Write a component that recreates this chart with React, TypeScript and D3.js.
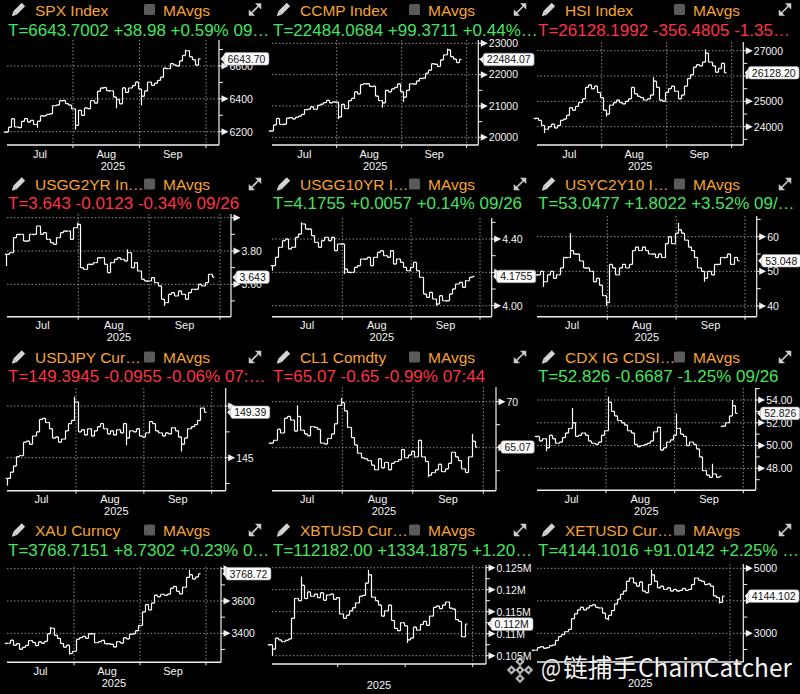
import React from "react";
import * as d3 from "d3";

// ---------- categories ----------
const MONTHS = ["Jul", "Aug", "Sep"];
const MONTH_FIRST_INDEX = [0, 22, 43, 64]; // first trading session of Jul, Aug, Sep, Oct
const YEAR_LABEL = "2025";

// ---------- series (daily closes, Jul 1 .. Sep 26 2025) ----------
const SPX_CLOSE = [6198,6227,6279,6229,6225,6263,6280,6259,6269,6244,6264,6297,6297,6305,6309,6359,6363,6389,6390,6371,6362,6339,
 6238,6330,6299,6345,6340,6389,6374,6446,6466,6469,6450,6449,6411,6396,6370,6467,6439,6466,6481,6502,6460,
 6416,6448,6502,6482,6495,6512,6532,6587,6584,6615,6606,6600,6631,6664,6693,6656,6638,6605,6643.7];
const SPX_WICKS: [number, number][] = [[22, 6212], [35, 6343], [43, 6360], [10, 6224], [57, 6699]];

const CCMP_CLOSE = [20202,20394,20601,20412,20418,20611,20630,20586,20640,20677,20730,20885,20896,20974,20893,21020,21057,21108,21179,21098,21130,21122,
 20650,21053,20916,21169,21242,21450,21385,21682,21713,21711,21623,21630,21315,21172,21100,21497,21449,21544,21590,21705,21456,
 21280,21498,21708,21700,21799,21879,21886,22043,22141,22348,22333,22261,22471,22631,22789,22573,22497,22385,22484.07];
const CCMP_WICKS: [number, number][] = [[22, 20580], [36, 20950], [43, 21130], [57, 22830]];

const HSI_CLOSE = [24330,24250,24050,23900,24000,24100,23950,24050,24250,24300,24450,24750,24650,24800,24950,25100,25550,25650,25500,25600,25350,25150,
 24650,24500,24850,24950,25050,24950,24900,25000,25100,25550,25300,25200,25150,25050,25100,25250,25800,25550,25050,
 25000,25350,25500,25600,25400,25100,25250,25600,25900,26050,26350,26450,26400,26550,26900,26550,26400,26150,26300,26500,26128.2];
const HSI_WICKS: [number, number][] = [[55, 27050], [38, 25950], [3, 23750], [23, 24400]];

const USGG2_CLOSE = [3.78,3.79,3.88,3.90,3.90,3.86,3.86,3.90,3.90,3.95,3.90,3.91,3.87,3.85,3.84,3.88,3.91,3.92,3.92,3.87,3.94,3.96,
 3.70,3.69,3.72,3.72,3.73,3.76,3.76,3.72,3.67,3.73,3.75,3.76,3.75,3.74,3.79,3.70,3.73,3.68,3.63,3.62,3.62,
 3.64,3.61,3.59,3.51,3.49,3.54,3.55,3.53,3.56,3.54,3.51,3.55,3.57,3.57,3.60,3.59,3.61,3.66,3.643];
const USGG2_WICKS: [number, number][] = [[0, 3.71], [21, 3.97], [36, 3.81], [47, 3.47]];

const USGG10_CLOSE = [4.24,4.29,4.35,4.39,4.40,4.34,4.35,4.41,4.43,4.49,4.46,4.46,4.42,4.38,4.35,4.39,4.41,4.39,4.41,4.33,4.37,4.37,
 4.22,4.20,4.20,4.23,4.24,4.28,4.28,4.29,4.24,4.29,4.32,4.33,4.30,4.29,4.33,4.25,4.28,4.26,4.23,4.21,4.23,
 4.26,4.21,4.17,4.07,4.05,4.08,4.04,4.01,4.06,4.03,4.03,4.07,4.10,4.13,4.14,4.11,4.15,4.17,4.1755];
const USGG10_WICKS: [number, number][] = [[0, 4.21], [9, 4.50], [22, 4.19], [50, 4.00]];

const USYC_CLOSE = [49,50,47,49,50,48,49,51,54,54,56,55,55,53,51,51,50,47,48,46,43,41,
 52,51,49,51,52,51,52,56,57,56,57,56,55,55,54,55,54,58,60,58,61,
 62,61,59,57,56,54,51,50,48,50,49,52,52,54,54,55,52,54,53.048];
const USYC_WICKS: [number, number][] = [[10, 61], [21, 40], [43, 64], [51, 47], [2, 45.5]];

const USDJPY_CLOSE = [143.0,143.6,144.2,145.1,145.2,146.5,146.6,146.3,147.1,147.5,148.7,148.8,148.4,147.8,146.9,147.0,146.5,146.8,147.6,148.3,148.6,150.4,
 147.5,147.7,147.2,147.8,147.1,147.6,148.0,148.3,147.8,147.3,147.6,147.2,147.7,147.4,148.3,146.9,147.6,147.5,147.8,147.1,147.0,
 147.4,148.5,148.3,147.6,147.4,147.1,147.4,147.3,147.9,147.6,147.0,146.3,146.9,147.8,148.0,148.2,148.6,149.8,149.39];
const USDJPY_WICKS: [number, number][] = [[0, 142.3], [21, 150.9], [54, 145.6], [37, 146.2]];

const CL1_CLOSE = [65.5,65.8,67.0,66.6,68.2,68.4,68.0,66.8,68.4,66.9,66.5,66.3,67.3,67.2,67.0,65.5,65.4,66.0,66.5,67.6,69.6,69.9,
 69.0,67.2,66.1,65.3,64.4,63.9,63.8,63.6,63.1,62.6,63.8,62.8,63.4,62.6,63.3,63.5,63.7,64.8,63.9,64.2,64.6,
 64.0,65.8,64.0,63.5,62.0,62.3,62.6,63.2,62.4,62.7,63.3,64.5,64.0,63.6,62.7,62.3,64.0,65.7,65.07];
const CL1_WICKS: [number, number][] = [[8, 69.6], [21, 70.4], [60, 66.5], [47, 61.8]];

const CDX_CLOSE = [50.8,50.4,50.6,49.8,50.9,50.6,50.2,50.3,50.7,51.1,51.5,52.0,50.8,50.9,51.1,50.9,50.4,50.2,50.1,50.3,50.9,51.3,
 53.8,53.0,52.6,52.2,52.0,51.8,51.3,51.1,50.1,49.9,50.0,50.1,50.2,50.4,51.2,51.6,49.6,49.8,50.3,50.5,50.9,
 51.5,51.0,50.8,50.0,50.3,50.1,49.7,49.0,47.8,47.4,47.2,47.5,47.2,47.3,51.7,52.0,52.6,53.5,52.826];
const CDX_WICKS: [number, number][] = [[11, 53.3], [22, 54.3], [43, 52.8], [54, 48.4], [60, 54.0], [3, 49.5]];
const CDX_ROLL_INDEX = 57;

const XAU_CLOSE = [3338,3357,3326,3336,3301,3313,3325,3355,3343,3324,3347,3338,3350,3397,3431,3387,3368,3337,3314,3326,3275,3289,
 3363,3373,3381,3369,3397,3398,3342,3348,3356,3336,3336,3332,3315,3348,3339,3372,3365,3394,3397,3416,3448,
 3533,3578,3545,3587,3636,3626,3641,3635,3643,3679,3690,3660,3644,3685,3746,3763,3736,3749,3768.72];
const XAU_WICKS: [number, number][] = [[14, 3440], [20, 3268], [58, 3791]];

const XBT_CLOSE = [107500,106500,109000,108600,108200,108500,108800,113500,118000,117500,121000,118000,119500,118500,119000,118200,119300,117600,118800,119000,117800,118200,
 114500,113500,114200,115200,115900,117000,118500,118700,121500,123400,118300,117500,116500,114000,115200,116500,113000,111200,110700,
 112500,111800,108600,109000,111500,110800,112100,112800,111900,114000,116000,116300,115700,116500,117200,115800,115600,113200,112800,109300,112182];
const XBT_WICKS: [number, number][] = [[10, 123000], [31, 124500], [1, 105000], [43, 107900]];

const XET_CLOSE = [2480,2560,2590,2540,2560,2620,2640,2780,2900,2960,3050,3120,3450,3600,3720,3800,3720,3780,3850,3880,3800,3780,
 3620,3450,3550,3700,3900,4050,4200,4300,4600,4700,4550,4450,4580,4300,4250,4500,4800,4600,4400,
 4450,4350,4400,4300,4350,4300,4320,4380,4320,4350,4500,4700,4630,4600,4500,4520,4450,4150,4100,3950,4144.102];
const XET_WICKS: [number, number][] = [[38, 4960], [24, 3400], [60, 3920]];

// ---------- axis tick values ----------
const SPX_MAJOR = [6200, 6400, 6600];
const SPX_MINOR = [6300, 6500, 6700];
const CCMP_MAJOR = [20000, 21000, 22000, 23000];
const CCMP_MINOR = [20500, 21500, 22500];
const HSI_MAJOR = [24000, 25000, 26000, 27000];
const HSI_MINOR = [23500, 24500, 25500, 26500];
const USGG2_MAJOR = [3.6, 3.8, 4.0];
const USGG2_MINOR = [3.5, 3.7, 3.9];
const USGG10_MAJOR = [4.0, 4.2, 4.4];
const USGG10_MINOR = [4.1, 4.3, 4.5];
const USYC_MAJOR = [40, 50, 60];
const USYC_MINOR = [45, 55, 65];
const USDJPY_MAJOR = [145, 150];
const USDJPY_MINOR = [142.5, 147.5];
const CL1_MAJOR = [65, 70];
const CL1_MINOR = [62.5, 67.5];
const CDX_MAJOR = [48, 50, 52, 54];
const CDX_MINOR = [47, 49, 51, 53, 55];
const XAU_MAJOR = [3400, 3600, 3800];
const XAU_MINOR = [3300, 3500, 3700];
const XBT_MAJOR = [105000, 110000, 115000, 120000, 125000];
const XBT_MINOR = [107500, 112500, 117500, 122500];
const XET_MAJOR = [3000, 4000, 5000];
const XET_MINOR = [2500, 3500, 4500];

// ---------- styles / layout ----------
const GREEN = "#47e35f";
const RED = "#ff3345";
const ORANGE = "#f7a431";
const FONT = "'Liberation Sans', Arial, sans-serif";
const COL_X = [0, 265, 530];
const TITLE_Y = [15.5, 190, 363, 536];
const QUOTE_Y = [35.5, 208.5, 382, 556];

type Panel = {
  col: number; row: number; title: string; quote: string; quoteColor: string;
  close: number[]; wicks: [number, number][]; breakAt?: number; lastText: string;
  axisX: number; g1: number; g3: number; top: number; bottom: number;
  ref: [number, number, number, number];
  majors: number[]; minors: number[]; noLabel?: number[];
  fmt: (v: number) => string; months: boolean; vgrid: boolean[];
};

const fInt = (v: number) => d3.format("d")(v);
const f2 = (v: number) => d3.format(".2f")(v);
const fM = (v: number) => `${+(v / 1e6).toFixed(3)}M`;

const PANELS: Panel[] = [
  { col: 0, row: 0, title: "SPX Index", quote: "T=6643.7002 +38.98 +0.59% 09…", quoteColor: GREEN, close: SPX_CLOSE, wicks: SPX_WICKS, lastText: "6643.70",
    axisX: 219, g1: 73, g3: 206, top: 40, bottom: 145, ref: [6600, 66, 6200, 131.7], majors: SPX_MAJOR, minors: SPX_MINOR, fmt: fInt, months: true, vgrid: [true, true, true] },
  { col: 1, row: 0, title: "CCMP Index", quote: "T=22484.0684 +99.3711 +0.44%…", quoteColor: GREEN, close: CCMP_CLOSE, wicks: CCMP_WICKS, lastText: "22484.07",
    axisX: 213.3, g1: 71.7, g3: 201.7, top: 40, bottom: 145, ref: [23000, 43.3, 20000, 137.3], majors: CCMP_MAJOR, minors: CCMP_MINOR, fmt: fInt, months: true, vgrid: [true, true, true] },
  { col: 2, row: 0, title: "HSI Index", quote: "T=26128.1992 -356.4805 -1.35…", quoteColor: RED, close: HSI_CLOSE, wicks: HSI_WICKS, lastText: "26128.20",
    axisX: 213.3, g1: 71.7, g3: 201.7, top: 42, bottom: 145, ref: [27000, 50.7, 24000, 126.7], majors: HSI_MAJOR, minors: HSI_MINOR, fmt: fInt, months: true, vgrid: [true, true, true] },
  { col: 0, row: 1, title: "USGG2YR In…", quote: "T=3.643 -0.0123 -0.34% 09/26", quoteColor: RED, close: USGG2_CLOSE, wicks: USGG2_WICKS, lastText: "3.643",
    axisX: 231, g1: 78.3, g3: 220, top: 214, bottom: 316.7, ref: [3.8, 251, 3.6, 284.3], majors: USGG2_MAJOR, minors: USGG2_MINOR, noLabel: [4.0], fmt: f2, months: true, vgrid: [true, true, true] },
  { col: 1, row: 1, title: "USGG10YR I…", quote: "T=4.1755 +0.0057 +0.14% 09/26", quoteColor: GREEN, close: USGG10_CLOSE, wicks: USGG10_WICKS, lastText: "4.1755",
    axisX: 226.7, g1: 77.3, g3: 215, top: 218, bottom: 316.7, ref: [4.4, 239, 4.0, 305.7], majors: USGG10_MAJOR, minors: USGG10_MINOR, fmt: f2, months: true, vgrid: [true, true, true] },
  { col: 2, row: 1, title: "USYC2Y10 I…", quote: "T=53.0477 +1.8022 +3.52% 09/…", quoteColor: GREEN, close: USYC_CLOSE, wicks: USYC_WICKS, lastText: "53.048",
    axisX: 226.7, g1: 77.3, g3: 215, top: 216, bottom: 316.7, ref: [60, 236.7, 40, 306], majors: USYC_MAJOR, minors: USYC_MINOR, fmt: fInt, months: true, vgrid: [true, true, true] },
  { col: 0, row: 2, title: "USDJPY Cur…", quote: "T=149.3945 -0.0955 -0.06% 07:…", quoteColor: RED, close: USDJPY_CLOSE, wicks: USDJPY_WICKS, lastText: "149.39",
    axisX: 225.7, g1: 76, g3: 211.7, top: 388, bottom: 490.7, ref: [150, 406, 145, 457.7], majors: USDJPY_MAJOR, minors: USDJPY_MINOR, fmt: fInt, months: true, vgrid: [true, true, true] },
  { col: 1, row: 2, title: "CL1 Comdty", quote: "T=65.07 -0.65 -0.99% 07:44", quoteColor: RED, close: CL1_CLOSE, wicks: CL1_WICKS, lastText: "65.07",
    axisX: 231, g1: 77.3, g3: 218.3, top: 387, bottom: 490.7, ref: [70, 401.7, 65, 447.7], majors: CL1_MAJOR, minors: CL1_MINOR, fmt: fInt, months: true, vgrid: [true, true, true] },
  { col: 2, row: 2, title: "CDX IG CDSI…", quote: "T=52.826 -0.6687 -1.25% 09/26", quoteColor: GREEN, close: CDX_CLOSE, wicks: CDX_WICKS, breakAt: CDX_ROLL_INDEX, lastText: "52.826",
    axisX: 225.7, g1: 76, g3: 213.3, top: 388, bottom: 490.3, ref: [54, 400, 48, 468.3], majors: CDX_MAJOR, minors: CDX_MINOR, fmt: f2, months: true, vgrid: [true, true, true] },
  { col: 0, row: 3, title: "XAU Curncy", quote: "T=3768.7151 +8.7302 +0.23% 0…", quoteColor: GREEN, close: XAU_CLOSE, wicks: XAU_WICKS, lastText: "3768.72",
    axisX: 221, g1: 74, g3: 206, top: 567, bottom: 662.3, ref: [3600, 601, 3400, 633.3], majors: XAU_MAJOR, minors: XAU_MINOR, fmt: fInt, months: true, vgrid: [true, true, true] },
  { col: 1, row: 3, title: "XBTUSD Cur…", quote: "T=112182.00 +1334.1875 +1.20…", quoteColor: GREEN, close: XBT_CLOSE, wicks: XBT_WICKS, lastText: "0.112M",
    axisX: 221, g1: 72.7, g3: 207.7, top: 565, bottom: 664, ref: [125000, 567.7, 105000, 655.7], majors: XBT_MAJOR, minors: XBT_MINOR, fmt: fM, months: false, vgrid: [false, false, true] },
  { col: 2, row: 3, title: "XETUSD Cur…", quote: "T=4144.1016 +91.0142 +2.25% …", quoteColor: GREEN, close: XET_CLOSE, wicks: XET_WICKS, lastText: "4144.102",
    axisX: 213.3, g1: 70, g3: 200, top: 564, bottom: 662, ref: [5000, 568.3, 3000, 633.3], majors: XET_MAJOR, minors: XET_MINOR, fmt: fInt, months: false, vgrid: [false, false, true] },
];

function textWidth(s: string, size: number) {
  let w = 0;
  for (const ch of s) {
    if (ch >= "0" && ch <= "9") w += 0.556;
    else if (ch === ".") w += 0.278;
    else if (ch === "M") w += 0.833;
    else w += 0.556;
  }
  return w * size;
}

function PanelView({ p }: { p: Panel }) {
  const ox = COL_X[p.col];
  const tY = TITLE_Y[p.row];
  const qY = QUOTE_Y[p.row];
  const x = d3.scaleLinear()
    .domain([MONTH_FIRST_INDEX[1] - 0.5, MONTH_FIRST_INDEX[3] - 0.5])
    .range([ox + p.g1, ox + p.g3]);
  const y = d3.scaleLinear().domain([p.ref[0], p.ref[2]]).range([p.ref[1], p.ref[3]]);
  const left = ox + 7;
  const right = ox + p.axisX;
  const bounds = MONTH_FIRST_INDEX.map((i) => x(i - 0.5));
  const monthCenters = [(left + bounds[1]) / 2, (bounds[1] + bounds[2]) / 2, (bounds[2] + bounds[3]) / 2];
  const wick = new Map(p.wicks);
  const last = p.close[p.close.length - 1];
  const ly = y(last);
  const inRange = (v: number) => y(v) >= p.top - 0.5 && y(v) <= p.bottom;
  const boxW = textWidth(p.lastText, 10.5) + 7;

  return (
    <g>
      {/* header */}
      <g transform={`translate(${ox + 18.5},${tY - 6}) rotate(-45)`}>
        <rect x={-5} y={-2.4} width={12} height={4.8} fill="#d4d4d4" />
        <polygon points="-5,-2.4 -9.5,0 -5,2.4" fill="#d4d4d4" />
      </g>
      <text x={ox + 35} y={tY} fill={ORANGE} fontSize={15.5} fontFamily={FONT}>{p.title}</text>
      <rect x={ox + 144} y={tY - 11.5} width={11} height={11} rx={1.5} fill="#5a5a5a" />
      <text x={ox + 163} y={tY} fill={ORANGE} fontSize={15.5} fontFamily={FONT}>MAvgs</text>
      <g stroke="#cfcfcf" strokeWidth={1.6} fill="#cfcfcf">
        <line x1={ox + 250.5} y1={tY - 1.5} x2={ox + 259.5} y2={tY - 10.5} />
        <polygon points={`${ox + 261},${tY - 12} ${ox + 255.5},${tY - 12} ${ox + 261},${tY - 6.5}`} strokeWidth={0.5} />
        <polygon points={`${ox + 249},${tY} ${ox + 254.5},${tY} ${ox + 249},${tY - 5.5}`} strokeWidth={0.5} />
      </g>
      <text x={ox + 8} y={qY} fill={p.quoteColor} fontSize={17} fontFamily={FONT}>{p.quote}</text>

      {/* grid */}
      <g stroke="#8c8c8c" strokeWidth={1} strokeDasharray="1.5 2">
        {p.majors.filter(inRange).map((v) => (
          <line key={"h" + v} x1={left} x2={right} y1={y(v)} y2={y(v)} />
        ))}
        {bounds.slice(1).map((bx, i) => p.vgrid[i] ? (
          <line key={"v" + i} x1={bx} x2={bx} y1={p.top} y2={p.bottom} />
        ) : null)}
      </g>

      {/* OHLC bars */}
      <g stroke="#ffffff" strokeWidth={1.2}>
        {p.close.map((c, i) => {
          const o = i === 0 || i === p.breakAt ? c : p.close[i - 1];
          let hi = Math.max(o, c);
          let lo = Math.min(o, c);
          const w = wick.get(i);
          if (w !== undefined) { hi = Math.max(hi, w); lo = Math.min(lo, w); }
          const cx = Math.round(x(i)) + 0.5;
          const yh = y(hi);
          const yl = Math.max(y(lo), yh + 1);
          return (
            <g key={i}>
              <line x1={cx} x2={cx} y1={yh} y2={yl} />
              <line x1={cx - 1.8} x2={cx} y1={y(o)} y2={y(o)} />
              <line x1={cx} x2={cx + 2} y1={y(c)} y2={y(c)} />
            </g>
          );
        })}
      </g>

      {/* axes */}
      <line x1={right} x2={right} y1={p.top} y2={p.bottom} stroke="#f0f0f0" strokeWidth={1.2} />
      <line x1={left} x2={right} y1={p.bottom} y2={p.bottom} stroke="#f0f0f0" strokeWidth={1.5} />
      {bounds.slice(1).map((bx, i) => (
        <line key={"xt" + i} x1={bx} x2={bx} y1={p.bottom} y2={p.bottom + 3} stroke="#f0f0f0" strokeWidth={1} />
      ))}
      {p.minors.filter(inRange).map((v) => (
        <line key={"mt" + v} x1={right} x2={right + 4} y1={y(v)} y2={y(v)} stroke="#f0f0f0" strokeWidth={1} />
      ))}
      {p.majors.filter(inRange).map((v) => {
        const yy = y(v);
        const showLabel = !(p.noLabel || []).includes(v) && Math.abs(yy - ly) >= 7;
        return (
          <g key={"mj" + v}>
            <line x1={right} x2={right + 3} y1={yy} y2={yy} stroke="#f0f0f0" strokeWidth={1} />
            <polygon points={`${right + 2.5},${yy - 3.5} ${right + 2.5},${yy + 3.5} ${right + 9.5},${yy}`} fill="#f0f0f0" />
            {showLabel && (
              <text x={right + 10.5} y={yy + 3.8} fill="#f4f4f4" fontSize={10.5} fontFamily={FONT}>{p.fmt(v)}</text>
            )}
          </g>
        );
      })}

      {/* month + year labels */}
      {p.months && MONTHS.map((m, i) => (
        <text key={m} x={monthCenters[i]} y={p.bottom + 12.5} fill="#f4f4f4" fontSize={11} fontFamily={FONT} textAnchor="middle">{m}</text>
      ))}
      <text x={(left + right) / 2} y={p.bottom + 24.5} fill="#f4f4f4" fontSize={11} fontFamily={FONT} textAnchor="middle">{YEAR_LABEL}</text>

      {/* last price tag */}
      <g>
        <polygon points={`${right + 1.5},${ly} ${right + 5.5},${ly - 4.5} ${right + 5.5},${ly + 4.5}`} fill="#ffffff" />
        <rect x={right + 5} y={ly - 6.3} width={boxW} height={12.6} rx={2.5} fill="#ffffff" stroke="#9a9a9a" strokeWidth={0.6} />
        <text x={right + 8.5} y={ly + 3.8} fill="#111" fontSize={10.5} fontFamily={FONT}>{p.lastText}</text>
      </g>
    </g>
  );
}

function BinanceMark() {
  const cx = 520, cy = 670;
  const d = (dx: number, dy: number, s: number, k: string) => (
    <rect key={k} x={cx + dx - s / 2} y={cy + dy - s / 2} width={s} height={s}
      transform={`rotate(45 ${cx + dx} ${cy + dy})`} fill="none" stroke="#d8d8d8" strokeWidth={2.2} />
  );
  return (
    <g opacity={0.85}>
      {d(0, 0, 4.5, "c")}
      {d(0, -8.5, 4.5, "t")}
      {d(0, 8.5, 4.5, "b")}
      {d(-8.5, 0, 4.5, "l")}
      {d(8.5, 0, 4.5, "r")}
    </g>
  );
}

const WM_FONT = "'Noto Sans CJK SC', 'Noto Sans', sans-serif";

export default function App() {
  return (
    <svg width={800} height={694} viewBox="0 0 800 694"
      style={{ position: "fixed", left: 0, top: 0, display: "block", background: "#000" }}>
      <rect x={0} y={0} width={800} height={694} fill="#000" />
      {PANELS.map((p, i) => <PanelView key={i} p={p} />)}
      <BinanceMark />
      <g fill="#f4f4f4" stroke="rgba(0,0,0,0.35)" strokeWidth={1} style={{ paintOrder: "stroke" }} fontFamily={WM_FONT} fontSize={25}>
        <text x={541} y={677} textLength={20} lengthAdjust="spacingAndGlyphs">@</text>
        <text x={563} y={677} textLength={74} lengthAdjust="spacingAndGlyphs">链捕手</text>
        <text x={638} y={677} textLength={154} lengthAdjust="spacingAndGlyphs">ChainCatcher</text>
      </g>
    </svg>
  );
}
